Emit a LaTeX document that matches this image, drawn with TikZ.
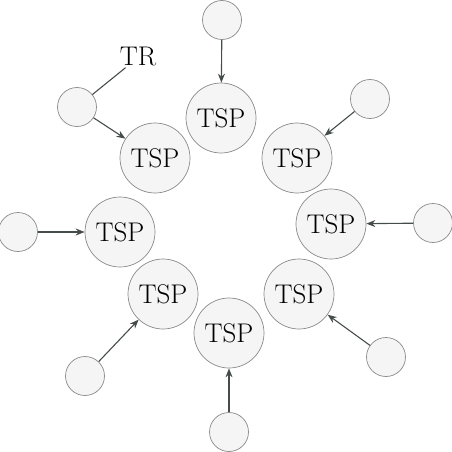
\documentclass[tikz,border=0pt]{standalone}
\usetikzlibrary{arrows.meta}

\definecolor{ringfill}{HTML}{F5F5F5}
\definecolor{ringline}{HTML}{8A8A8A}
\definecolor{linkgray}{HTML}{454C4C}

\begin{document}
\begin{tikzpicture}[x=1pt, y=-1pt,
  tsp/.style={circle, draw=ringline, fill=ringfill, line width=0.7pt, minimum size=70pt, inner sep=0pt, font=\fontsize{27}{27}\selectfont},
  tr/.style={circle, draw=ringline, fill=ringfill, line width=0.7pt, minimum size=39pt, inner sep=0pt},
  link/.style={draw=linkgray, line width=1.1pt, -{Stealth[length=9pt, width=7pt]}}]
  \useasboundingbox (0, 0) rectangle (452, 452);
  \draw (221, 118) node[tsp] (p1) {TSP};
  \draw (297, 158) node[tsp] (p2) {TSP};
  \draw (331, 224) node[tsp] (p3) {TSP};
  \draw (299, 294) node[tsp] (p4) {TSP};
  \draw (229, 333) node[tsp] (p5) {TSP};
  \draw (163, 294) node[tsp] (p6) {TSP};
  \draw (120, 232) node[tsp] (p7) {TSP};
  \draw (155, 158) node[tsp] (p8) {TSP};
  \draw (222, 20) node[tr] (s1) {};
  \draw (370, 99) node[tr] (s2) {};
  \draw (433, 223) node[tr] (s3) {};
  \draw (386, 357) node[tr] (s4) {};
  \draw (229, 432) node[tr] (s5) {};
  \draw (85, 376) node[tr] (s6) {};
  \draw (18, 232) node[tr] (s7) {};
  \draw (77, 107) node[tr] (s8) {};
  \draw (138, 56) node[inner sep=0pt, font=\fontsize{27}{27}\selectfont] (lbl) {TR};
  \draw [link] (s1) -- (p1);
  \draw [link] (s2) -- (p2);
  \draw [link] (s3) -- (p3);
  \draw [link] (s4) -- (p4);
  \draw [link] (s5) -- (p5);
  \draw [link] (s6) -- (p6);
  \draw [link] (s7) -- (p7);
  \draw [link] (s8) -- (p8);
  \draw [draw=linkgray, line width=1.1pt] (s8) -- ([xshift=6pt, yshift=-2pt]lbl.south west);
\end{tikzpicture}
\end{document}
